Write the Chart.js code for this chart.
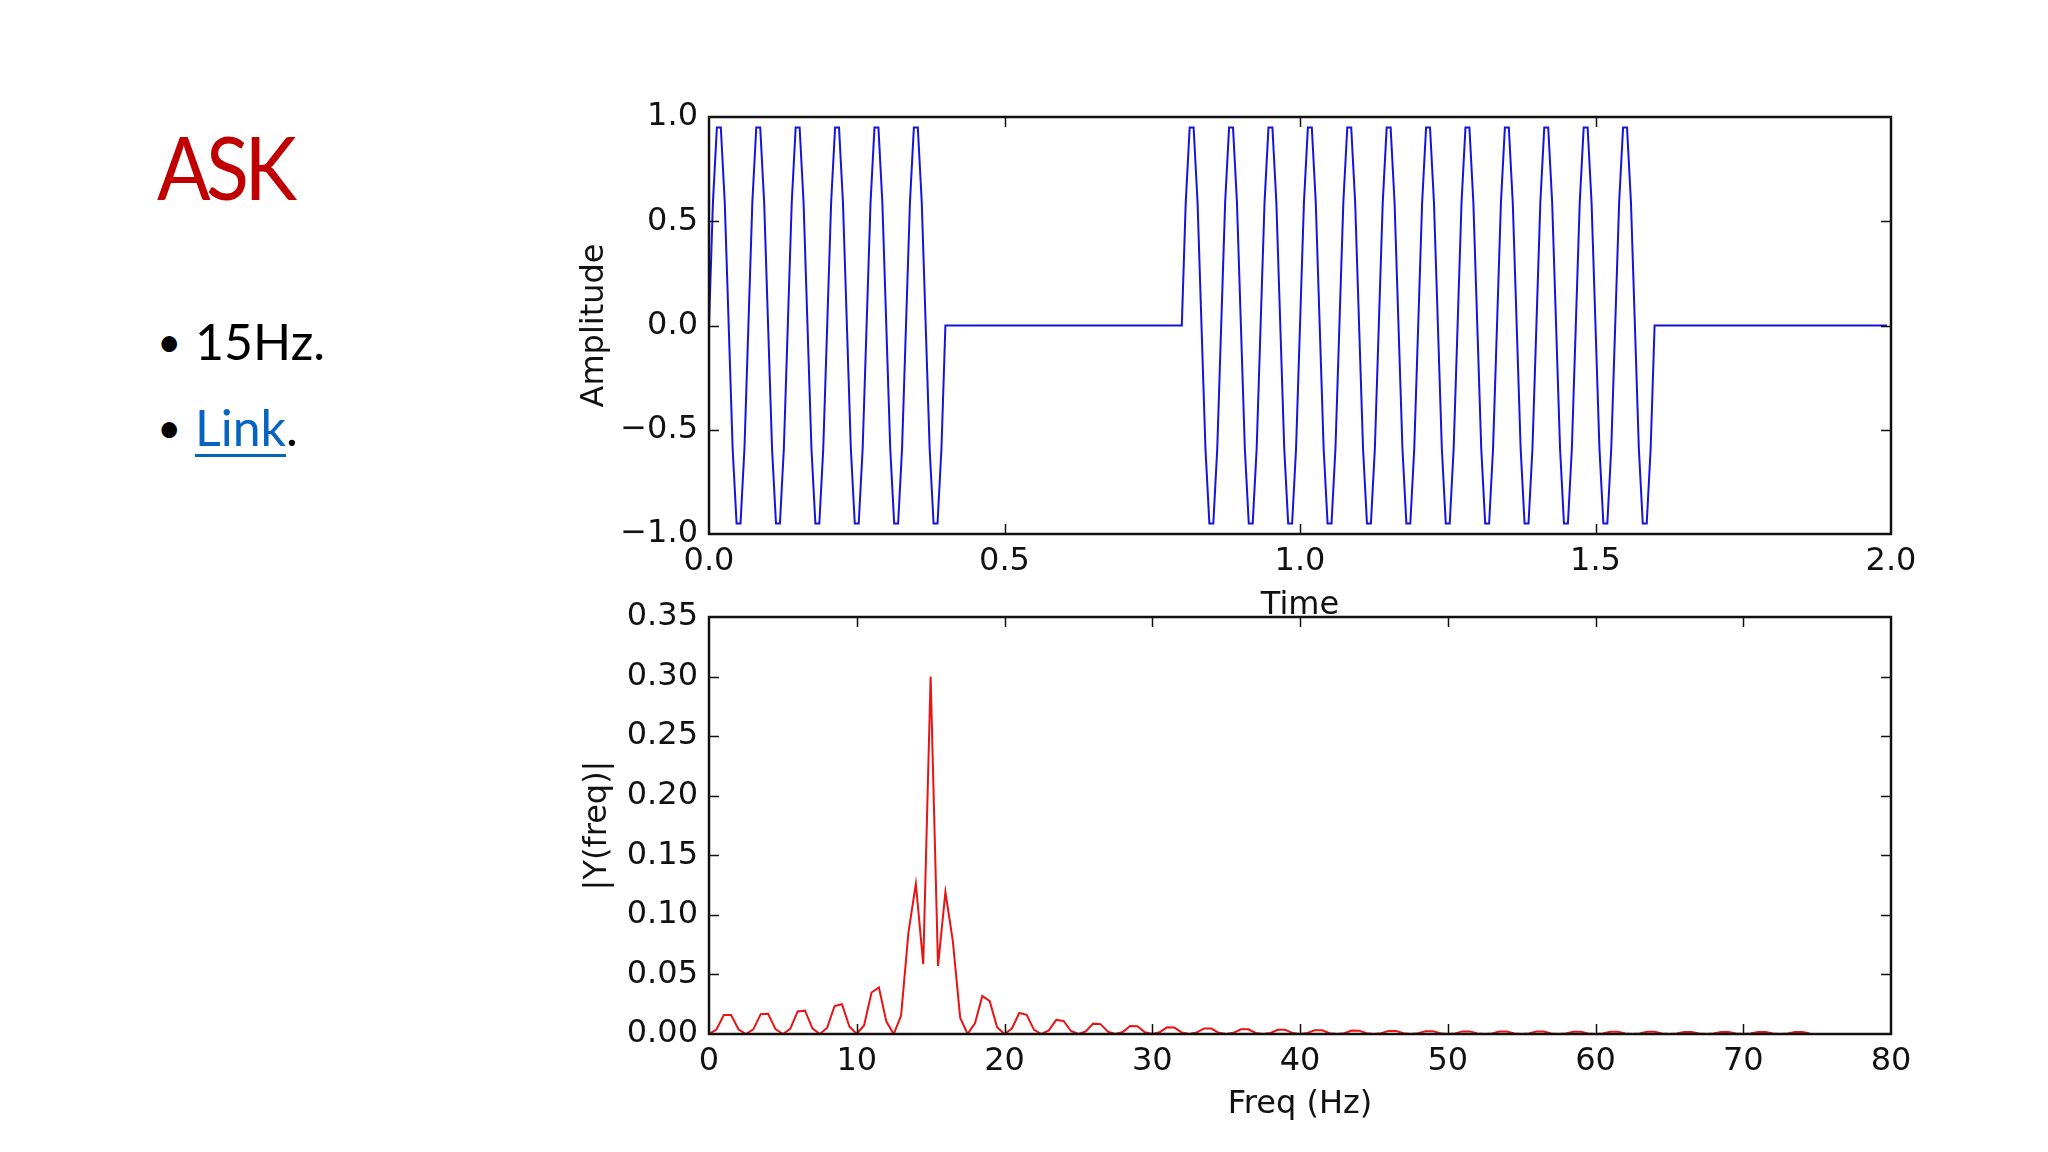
<!DOCTYPE html>
<html lang="en">
<head>
<meta charset="UTF-8">
<title>ASK</title>
<script src="https://cdn.jsdelivr.net/npm/chart.js"></script>
<style>
    html, body { margin: 0; padding: 0; background: #fff; }
    body { width: 2048px; height: 1152px; position: relative; overflow: hidden; font-family: Lato, "Open Sans", sans-serif; }
    .title { position: absolute; left: 157px; top: 122px; font-size: 88px; line-height: 1; color: #c00000; letter-spacing: -5px; transform: scaleX(0.9); transform-origin: left top; }
    .item { position: absolute; left: 155px; font-size: 50px; line-height: 1; color: #000; }
    .item .dot { position: absolute; left: 2px; top: 4px; font-size: 42px; }
    .item .txt { position: absolute; left: 40px; white-space: nowrap; }
    .item a { color: #0563c1; text-decoration: underline; text-decoration-thickness: 3px; text-underline-offset: 8px; }
    canvas { position: absolute; left: 0; top: 0; }
</style>
</head>
<body>
<div class="title">ASK</div>
<div class="item" style="top:316px"><span class="dot">•</span><span class="txt">15Hz.</span></div>
<div class="item" style="top:402px"><span class="dot">•</span><span class="txt"><a>Link</a>.</span></div>

<canvas id="timeChart" width="2048" height="1152"></canvas>
<canvas id="freqChart" width="2048" height="1152"></canvas>

<script>
// sampled ASK signal, 150 samples per second over 2 s (one row = one 15 Hz cycle)
const sampleRate = 150;
const amplitude = [
    0, 0.59, 0.95, 0.95, 0.59, 0, -0.59, -0.95, -0.95, -0.59,
    0, 0.59, 0.95, 0.95, 0.59, 0, -0.59, -0.95, -0.95, -0.59,
    0, 0.59, 0.95, 0.95, 0.59, 0, -0.59, -0.95, -0.95, -0.59,
    0, 0.59, 0.95, 0.95, 0.59, 0, -0.59, -0.95, -0.95, -0.59,
    0, 0.59, 0.95, 0.95, 0.59, 0, -0.59, -0.95, -0.95, -0.59,
    0, 0.59, 0.95, 0.95, 0.59, 0, -0.59, -0.95, -0.95, -0.59,
    0, 0, 0, 0, 0, 0, 0, 0, 0, 0,
    0, 0, 0, 0, 0, 0, 0, 0, 0, 0,
    0, 0, 0, 0, 0, 0, 0, 0, 0, 0,
    0, 0, 0, 0, 0, 0, 0, 0, 0, 0,
    0, 0, 0, 0, 0, 0, 0, 0, 0, 0,
    0, 0, 0, 0, 0, 0, 0, 0, 0, 0,
    0, 0.59, 0.95, 0.95, 0.59, 0, -0.59, -0.95, -0.95, -0.59,
    0, 0.59, 0.95, 0.95, 0.59, 0, -0.59, -0.95, -0.95, -0.59,
    0, 0.59, 0.95, 0.95, 0.59, 0, -0.59, -0.95, -0.95, -0.59,
    0, 0.59, 0.95, 0.95, 0.59, 0, -0.59, -0.95, -0.95, -0.59,
    0, 0.59, 0.95, 0.95, 0.59, 0, -0.59, -0.95, -0.95, -0.59,
    0, 0.59, 0.95, 0.95, 0.59, 0, -0.59, -0.95, -0.95, -0.59,
    0, 0.59, 0.95, 0.95, 0.59, 0, -0.59, -0.95, -0.95, -0.59,
    0, 0.59, 0.95, 0.95, 0.59, 0, -0.59, -0.95, -0.95, -0.59,
    0, 0.59, 0.95, 0.95, 0.59, 0, -0.59, -0.95, -0.95, -0.59,
    0, 0.59, 0.95, 0.95, 0.59, 0, -0.59, -0.95, -0.95, -0.59,
    0, 0.59, 0.95, 0.95, 0.59, 0, -0.59, -0.95, -0.95, -0.59,
    0, 0.59, 0.95, 0.95, 0.59, 0, -0.59, -0.95, -0.95, -0.59,
    0, 0, 0, 0, 0, 0, 0, 0, 0, 0,
    0, 0, 0, 0, 0, 0, 0, 0, 0, 0,
    0, 0, 0, 0, 0, 0, 0, 0, 0, 0,
    0, 0, 0, 0, 0, 0, 0, 0, 0, 0,
    0, 0, 0, 0, 0, 0, 0, 0, 0, 0,
    0, 0, 0, 0, 0, 0, 0, 0, 0, 0
];

// |Y(freq)|, one value per 0.5 Hz bin from 0 to 74.5 Hz
const freqStep = 0.5;
const spectrum = [
    0, 0.0037, 0.0159, 0.0160, 0.0038, 0, 0.0039, 0.0167, 0.0170, 0.0041,
    0, 0.0043, 0.0189, 0.0196, 0.0048, 0, 0.0053, 0.0235, 0.0250, 0.0063,
    0, 0.0074, 0.0348, 0.0391, 0.0106, 0, 0.0154, 0.0854, 0.1261, 0.0587,
    0.3000, 0.0570, 0.1191, 0.0783, 0.0137, 0, 0.0089, 0.0319, 0.0276, 0.0057,
    0, 0.0046, 0.0176, 0.0161, 0.0035, 0, 0.0030, 0.0118, 0.0110, 0.0025,
    0, 0.0022, 0.0087, 0.0083, 0.0019, 0, 0.0017, 0.0068, 0.0066, 0.0015,
    0, 0.0014, 0.0056, 0.0054, 0.0012, 0, 0.0012, 0.0047, 0.0046, 0.0010,
    0, 0.0010, 0.0040, 0.0039, 0.0009, 0, 0.0009, 0.0035, 0.0035, 0.0008,
    0, 0.0008, 0.0032, 0.0031, 0.0007, 0, 0.0007, 0.0029, 0.0028, 0.0007,
    0, 0.0006, 0.0026, 0.0026, 0.0006, 0, 0.0006, 0.0024, 0.0024, 0.0006,
    0, 0.0005, 0.0022, 0.0022, 0.0005, 0, 0.0005, 0.0021, 0.0021, 0.0005,
    0, 0.0005, 0.0020, 0.0020, 0.0005, 0, 0.0005, 0.0019, 0.0019, 0.0005,
    0, 0.0004, 0.0018, 0.0018, 0.0004, 0, 0.0004, 0.0018, 0.0018, 0.0004,
    0, 0.0004, 0.0017, 0.0017, 0.0004, 0, 0.0004, 0.0017, 0.0017, 0.0004,
    0, 0.0004, 0.0017, 0.0017, 0.0004, 0, 0.0004, 0.0017, 0.0017, 0.0004
];

const timeTicks = [0, 0.5, 1.0, 1.5, 2.0];
const ampTicks = [-1.0, -0.5, 0.0, 0.5, 1.0];
const freqTicks = [0, 10, 20, 30, 40, 50, 60, 70, 80];
const specTicks = [0, 0.05, 0.10, 0.15, 0.20, 0.25, 0.30, 0.35];

const FONT = 'DejaVu Sans';
const INK = '#111';

function fmt(v, d) {
    return v.toFixed(d).replace('-', '\u2212');
}

// matplotlib-like box: frame, inward ticks on all sides, axis titles
const framePlugin = {
    id: 'frame',
    afterDraw(chart, args, opts) {
        const { ctx, chartArea: a, scales } = chart;
        const len = 10;
        ctx.save();
        ctx.strokeStyle = INK;
        ctx.lineWidth = 1.5;
        ctx.beginPath();
        scales.x.ticks.forEach(t => {
            const px = Math.round(scales.x.getPixelForValue(t.value)) + 0.5;
            if (px < a.left + 2 || px > a.right - 2) return;
            ctx.moveTo(px, a.bottom); ctx.lineTo(px, a.bottom - len);
            ctx.moveTo(px, a.top); ctx.lineTo(px, a.top + len);
        });
        scales.y.ticks.forEach(t => {
            const py = Math.round(scales.y.getPixelForValue(t.value)) + 0.5;
            if (py < a.top + 2 || py > a.bottom - 2) return;
            ctx.moveTo(a.left, py); ctx.lineTo(a.left + len, py);
            ctx.moveTo(a.right, py); ctx.lineTo(a.right - len, py);
        });
        ctx.stroke();
        ctx.lineWidth = 2.5;
        ctx.strokeRect(a.left, a.top, a.right - a.left, a.bottom - a.top);

        ctx.fillStyle = INK;
        ctx.font = '32px "' + FONT + '"';
        ctx.textAlign = 'center';
        ctx.textBaseline = 'middle';
        ctx.fillText(opts.xTitle, (a.left + a.right) / 2, a.bottom + opts.xGap);
        ctx.translate(a.left - opts.yGap, (a.top + a.bottom) / 2);
        ctx.rotate(-Math.PI / 2);
        ctx.fillText(opts.yTitle, 0, 0);
        ctx.restore();
    }
};

function makeChart(id, points, color, x, y, box, titles) {
    return new Chart(document.getElementById(id), {
        type: 'line',
        data: {
            datasets: [{
                data: points,
                borderColor: color,
                borderWidth: 2,
                pointRadius: 0,
                tension: 0,
                fill: false
            }]
        },
        plugins: [framePlugin],
        options: {
            responsive: false,
            animation: false,
            events: [],
            layout: { padding: box },
            plugins: {
                legend: { display: false },
                tooltip: { enabled: false },
                frame: titles
            },
            scales: {
                x: {
                    type: 'linear',
                    min: x.min, max: x.max,
                    afterBuildTicks: s => { s.ticks = x.ticks.map(v => ({ value: v })); },
                    afterFit: s => { s.height = 40; },
                    grid: { display: false, drawTicks: false },
                    border: { display: false },
                    ticks: {
                        color: INK, padding: 8, maxRotation: 0, autoSkip: false,
                        font: { family: FONT, size: 32 },
                        callback: v => fmt(v, x.dec)
                    }
                },
                y: {
                    type: 'linear',
                    min: y.min, max: y.max,
                    afterBuildTicks: s => { s.ticks = y.ticks.map(v => ({ value: v })); },
                    afterFit: s => { s.width = 150; },
                    grid: { display: false, drawTicks: false },
                    border: { display: false },
                    ticks: {
                        color: INK, padding: 11, autoSkip: false,
                        font: { family: FONT, size: 32 },
                        callback: v => fmt(v, y.dec)
                    }
                }
            }
        }
    });
}

const timePoints = amplitude.map((v, i) => ({ x: i / sampleRate, y: v }));
const specPoints = spectrum.map((v, i) => ({ x: i * freqStep, y: v }));

makeChart('timeChart', timePoints, '#1414dc',
    { min: 0, max: 2, ticks: timeTicks, dec: 1 },
    { min: -1, max: 1, ticks: ampTicks, dec: 1 },
    { left: 709 - 150, top: 117, right: 2048 - 1891, bottom: 1152 - 534 - 40 },
    { xTitle: 'Time', yTitle: 'Amplitude', xGap: 72, yGap: 114 });

makeChart('freqChart', specPoints, '#e81414',
    { min: 0, max: 80, ticks: freqTicks, dec: 0 },
    { min: 0, max: 0.35, ticks: specTicks, dec: 2 },
    { left: 709 - 150, top: 617, right: 2048 - 1891, bottom: 1152 - 1034 - 40 },
    { xTitle: 'Freq (Hz)', yTitle: '|Y(freq)|', xGap: 71, yGap: 111 });
</script>
</body>
</html>
